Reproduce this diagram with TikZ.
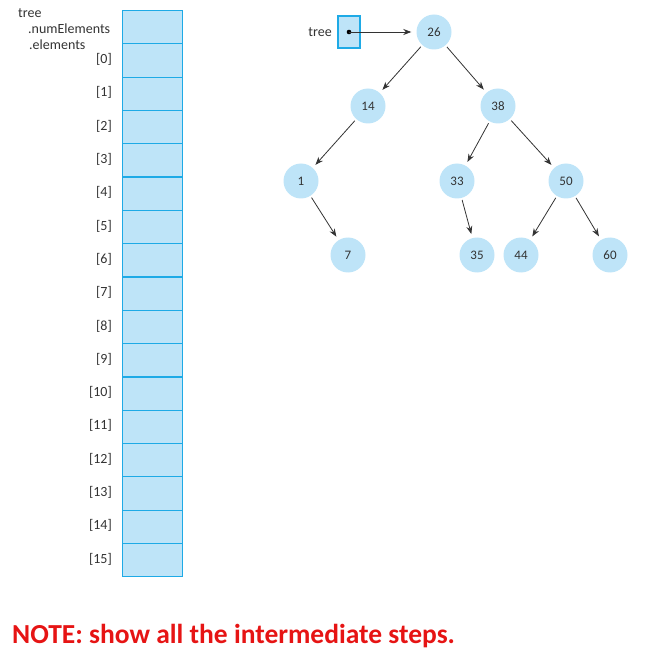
\documentclass[tikz,border=0pt]{standalone}
\usepackage{fontspec}
\setmainfont{Carlito}
\usetikzlibrary{arrows.meta}
\definecolor{cellfill}{RGB}{190,228,248}
\definecolor{celldraw}{RGB}{30,170,230}
\definecolor{notered}{RGB}{230,20,20}
\begin{document}
\begin{tikzpicture}[x=1pt,y=-1pt,
  cell/.style={draw=celldraw,fill=cellfill,line width=1.2pt,minimum width=60pt,minimum height=33.3pt,inner sep=0pt,anchor=north west},
  lbl/.style={font=\fontsize{14}{15}\selectfont,text=black!80,inner sep=0pt},
  tn/.style={circle,fill=cellfill,minimum size=35pt,inner sep=0pt,font=\fontsize{13}{14}\selectfont,text=black!80},
  edge/.style={-{Stealth[length=8pt,width=6pt]},draw=black!80,line width=0.8pt,shorten >=4pt,shorten <=2pt}]
\useasboundingbox (0,0) rectangle (670,658);
\foreach \i in {0,...,16}{
  \node[cell] (c\i) at (122,{10+33.3*\i}) {};
}
\node[lbl,anchor=west] (lt) at (18,13) {tree};
\node[lbl,anchor=west] (ln) at (28,29) {.numElements};
\node[lbl,anchor=west] (le) at (29,45) {.elements};
\foreach \i in {0,...,15}{
  \node[lbl,anchor=east] (l\i) at (112,{59.5+33.3*\i}) {[\i]};
}
\node[draw=celldraw,fill=cellfill,line width=1.2pt,minimum width=22pt,minimum height=32pt,inner sep=0pt] (ptr) at (349,32) {};
\node[lbl,anchor=east] (pl) at (332,32) {tree};
\fill (349,32) circle (2.3pt);
\coordinate (pd) at (349,32);
\node[tn] (n26) at (434,32) {26};
\node[tn] (n14) at (368,106) {14};
\node[tn] (n38) at (498,106) {38};
\node[tn] (n1) at (301,181) {1};
\node[tn] (n33) at (457,181) {33};
\node[tn] (n50) at (566,181) {50};
\node[tn] (n7) at (348,255) {7};
\node[tn] (n35) at (477,255) {35};
\node[tn] (n44) at (521,255) {44};
\node[tn] (n60) at (610,255) {60};
\draw[-{Stealth[length=8pt,width=6pt]},draw=black!80,line width=0.8pt,shorten >=5pt] (pd) -- (n26.west);
\foreach \a/\b in {n26/n14,n26/n38,n14/n1,n38/n33,n38/n50,n1/n7,n33/n35,n50/n44,n50/n60}
  \draw[edge] (\a) -- (\b);
\node[anchor=west,inner sep=0pt,text=notered,font=\fontsize{27.5}{30}\selectfont\bfseries] (note) at (12,636) {NOTE: show all the intermediate steps.};
\end{tikzpicture}
\end{document}
